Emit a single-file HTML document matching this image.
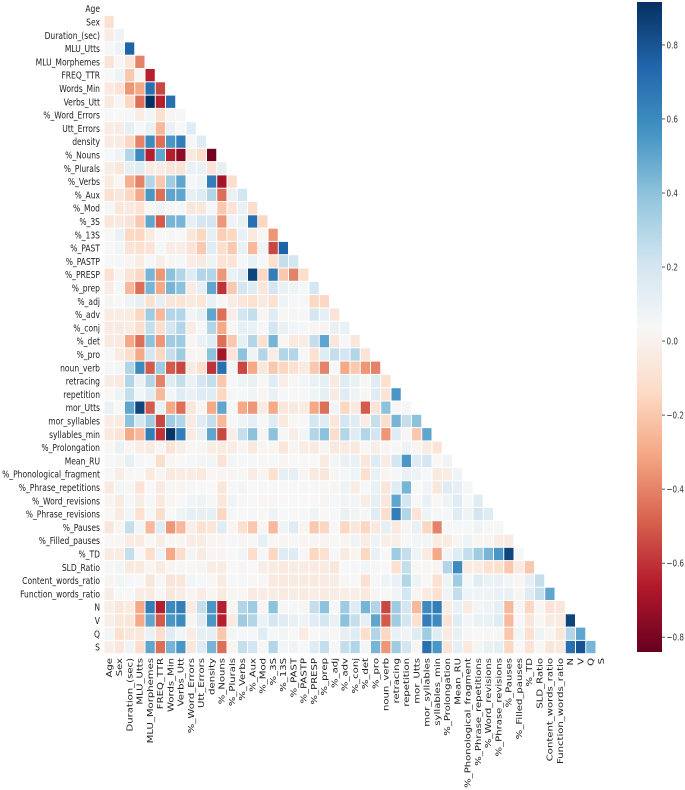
<!DOCTYPE html>
<html><head><meta charset="utf-8"><style>
html,body{margin:0;padding:0;background:#fff;}
svg{display:block;font-family:"DejaVu Sans","Liberation Sans",sans-serif;}
</style></head><body>
<svg id="chart" width="685" height="790" viewBox="0 0 685 790" xmlns="http://www.w3.org/2000/svg">
<defs>
<linearGradient id="cbg" x1="0" y1="1" x2="0" y2="0">
<stop offset="0" stop-color="#67001f"/><stop offset="0.1" stop-color="#b2182b"/><stop offset="0.2" stop-color="#d6604d"/><stop offset="0.3" stop-color="#f4a582"/><stop offset="0.4" stop-color="#fddbc7"/><stop offset="0.5" stop-color="#f7f7f7"/><stop offset="0.6" stop-color="#d1e5f0"/><stop offset="0.7" stop-color="#92c5de"/><stop offset="0.8" stop-color="#4393c3"/><stop offset="0.9" stop-color="#2166ac"/><stop offset="1" stop-color="#053061"/>
</linearGradient>
</defs>
<g id="cells"></g>
<g id="ylabels"></g>
<g id="xlabels"></g>
<g id="cbar"></g>
</svg>
<script>
const labels = ["Age","Sex","Duration_(sec)","MLU_Utts","MLU_Morphemes","FREQ_TTR","Words_Min","Verbs_Utt","%_Word_Errors","Utt_Errors","density","%_Nouns","%_Plurals","%_Verbs","%_Aux","%_Mod","%_3S","%_13S","%_PAST","%_PASTP","%_PRESP","%_prep","%_adj","%_adv","%_conj","%_det","%_pro","noun_verb","retracing","repetition","mor_Utts","mor_syllables","syllables_min","%_Prolongation","Mean_RU","%_Phonological_fragment","%_Phrase_repetitions","%_Word_revisions","%_Phrase_revisions","%_Pauses","%_Filled_pauses","%_TD","SLD_Ratio","Content_words_ratio","Function_words_ratio","N","V","Q","S"];
const corr = [
[],
[-0.1],
[-0.03,0.08],
[0.05,0.08,0.75],
[-0.08,0.03,-0.07,-0.4],
[0.03,0.08,-0.2,0.03,-0.65],
[-0.05,-0.08,-0.35,-0.3,0.7,-0.55],
[-0.05,0.02,-0.15,-0.45,0.92,-0.65,0.7],
[0.04,0.04,0.05,-0.03,0.06,-0.1,0.02,0.05],
[-0.03,-0.03,0.12,0.05,0.1,-0.25,0.1,0.04,0.15],
[-0.04,-0.04,-0.15,-0.4,0.6,-0.45,0.55,0.65,0.05,0.15],
[0.05,0.08,0.3,0.6,-0.65,0.5,-0.65,-0.75,-0.05,-0.12,-0.82],
[-0.03,-0.06,0.12,0.15,-0.03,-0.03,-0.06,-0.08,0.1,0.1,-0.08,0.12],
[-0.04,0.02,-0.28,-0.4,0.3,-0.2,0.35,0.5,0.05,0.08,0.65,-0.7,-0.12],
[-0.1,-0.06,-0.15,-0.3,0.55,-0.45,0.5,0.5,0.12,0.15,0.3,-0.45,0.1,0.2],
[0.05,-0.06,-0.05,-0.08,0.03,0.08,0.03,0.05,-0.06,-0.06,0.05,-0.2,-0.08,0.1,-0.12],
[-0.06,-0.05,-0.08,-0.2,0.5,-0.5,0.45,0.45,0.12,0.2,0.2,-0.35,0.08,0.1,0.7,-0.15],
[0.03,0.1,-0.15,-0.15,-0.04,0.04,0.05,0.04,-0.06,-0.15,0.12,-0.18,-0.15,0.1,-0.05,0.03,-0.35],
[0.04,0.06,-0.08,-0.1,-0.08,0.05,-0.03,-0.02,-0.08,-0.2,0.15,-0.12,-0.2,0.1,-0.25,0.08,-0.55,0.75],
[0.05,0.05,0.02,-0.03,0.05,-0.02,0.03,0.05,-0.03,-0.05,0.08,-0.08,-0.08,0.05,0.1,0.05,-0.1,0.25,0.2],
[-0.1,0.02,-0.08,-0.15,0.45,-0.35,0.4,0.3,0.15,0.3,0.3,-0.35,0.1,0.15,0.85,-0.15,0.65,-0.2,-0.4,-0.12],
[-0.03,0.05,-0.25,-0.45,0.45,-0.3,0.45,0.4,-0.04,0.12,0.5,-0.6,-0.2,0.2,0.15,-0.06,0.2,0.1,0.08,0.05,0.2],
[0.02,0.04,0.08,0.12,-0.1,0.12,-0.07,-0.08,-0.05,-0.07,0.1,0.03,-0.03,-0.07,-0.1,-0.05,-0.1,0.08,0.05,0.03,-0.15,-0.15],
[-0.03,-0.03,-0.04,-0.15,0.35,-0.25,0.3,0.3,0.07,0.12,0.5,-0.45,-0.02,0.2,0.25,0.02,0.15,0.03,0.02,0.05,0.2,0.12,-0.08],
[-0.04,-0.04,-0.03,-0.12,0.25,-0.12,0.2,0.3,-0.03,0.05,0.3,-0.3,0.03,0.12,0.1,0.05,0.2,0.1,0.07,0.05,0.02,0.02,0.1,0.1],
[-0.05,-0.05,-0.3,-0.45,0.4,-0.35,0.35,0.35,0.02,0.1,0.15,-0.45,-0.2,0.12,0.3,-0.1,0.45,0.03,-0.05,-0.03,0.25,0.5,-0.06,0.05,-0.06],
[0.05,-0.04,-0.12,-0.3,0.2,-0.15,0.25,0.35,0.02,0.02,0.4,-0.7,-0.08,0.4,0.08,0.3,-0.03,0.3,0.3,0.05,-0.1,0.15,0.25,0.2,0.3,-0.08],
[0.05,0.06,0.3,0.6,-0.5,0.35,-0.5,-0.55,-0.04,-0.1,-0.6,0.7,0.06,-0.55,-0.3,-0.06,-0.2,-0.15,-0.1,-0.04,-0.2,-0.4,0.05,-0.3,-0.2,-0.35,-0.4],
[-0.03,-0.05,0.3,0.1,0.3,-0.4,0.15,0.25,0.1,0.2,0.25,-0.2,0.05,0.08,0.1,0.03,0.15,-0.02,0.03,0.06,0.1,0.12,-0.05,0.15,0.1,0.03,0.15,-0.1],
[0.03,0.08,0.25,0.06,0.15,-0.25,0.06,0.15,0.1,0.15,0.15,-0.15,0.03,0.05,0.07,0.02,0.1,0.05,0.04,0.05,0.08,0.12,-0.04,0.15,0.08,0.03,0.15,-0.08,0.55],
[0.1,0.03,0.5,0.85,-0.5,0.1,-0.3,-0.45,-0.06,0.02,-0.3,0.5,0.05,-0.3,-0.35,-0.04,-0.3,-0.06,-0.05,-0.03,-0.3,-0.45,0.07,-0.15,-0.05,-0.5,-0.08,0.4,0.03,0.05],
[-0.03,-0.04,0.4,0.2,0.35,-0.55,0.35,0.3,-0.04,0.15,0.25,-0.25,0.05,0.08,0.12,0.05,0.15,-0.05,0.03,0.04,0.2,0.15,-0.06,0.2,0.15,-0.03,0.25,-0.12,0.45,0.25,0.4],
[-0.05,-0.08,-0.3,-0.25,0.65,-0.6,0.9,0.65,-0.04,0.1,0.5,-0.55,-0.02,0.25,0.4,0.02,0.4,0.05,-0.02,0.06,0.3,0.4,-0.12,0.3,0.15,0.3,0.2,-0.35,0.15,0.03,-0.2,0.5],
[0.03,0.1,0.02,-0.02,-0.04,0.02,-0.08,-0.02,0.03,0.02,-0.03,-0.04,-0.03,0.02,-0.05,0.02,0.02,-0.06,0.02,-0.03,-0.04,0.02,-0.05,-0.04,-0.05,0.03,-0.02,0.02,0.03,0.08,0.02,-0.04,-0.08],
[0.05,0.02,0.12,0.05,0.04,-0.12,0.02,0.04,0.05,0.06,0.06,-0.08,0.06,0.05,0.05,0.03,0.05,0.02,0.04,0.04,0.04,-0.04,0.06,0.1,0.1,-0.06,0.15,-0.03,0.2,0.55,0.15,0.2,0.03,0.07],
[0.03,-0.03,0.03,0.04,-0.05,0.02,-0.05,-0.03,-0.03,-0.05,0.03,0.02,0.02,0.03,-0.03,0.02,-0.1,0.12,0.12,0.02,-0.05,-0.06,0.02,0.05,0.08,-0.1,0.1,0.02,0.05,0.1,0.08,0.05,-0.05,-0.03,0.07],
[-0.05,0.06,0.03,-0.08,0.04,-0.04,0.03,0.02,0.05,0.04,0.04,-0.06,0.05,0.06,0.04,0.05,0.03,0.04,0.04,0.03,0.05,0.03,0.02,0.08,-0.03,0.05,0.1,-0.06,0.15,0.45,0.04,0.07,-0.06,0.15,0.12,0.05],
[0.02,-0.04,0.05,-0.03,0.05,-0.05,0.02,0.04,0.07,0.08,0.05,-0.06,0.07,0.03,0.04,0.02,0.02,0.04,0.04,0.04,0.04,0.02,0.05,0.07,0.06,-0.03,0.12,-0.06,0.5,0.2,0.04,0.1,0.03,0.08,0.15,0.04,0.15],
[0.03,-0.04,0.06,-0.1,0.05,-0.12,0.04,0.08,0.12,0.12,0.12,-0.15,0.05,0.04,0.05,0.03,0.08,0.04,0.04,0.05,0.08,0.04,0.05,0.1,0.06,0.05,0.15,-0.12,0.65,0.3,-0.08,0.08,0.05,0.05,0.15,0.08,0.2,0.15],
[-0.06,0.02,0.25,0.06,-0.25,0.15,-0.35,-0.25,-0.02,-0.1,-0.07,0.15,0.02,-0.1,-0.2,0.02,-0.25,0.08,0.15,0.02,-0.2,-0.15,0.04,-0.15,-0.06,-0.15,-0.05,0.12,-0.05,0.02,0.1,-0.15,-0.4,0.05,0.05,0.05,0.08,0.03,0.05],
[0.03,0.03,-0.04,-0.04,0.03,-0.03,0.03,0.02,-0.03,-0.03,0.02,0.02,0.05,0.02,0.03,0.12,0.03,0.02,0.03,0.02,0.02,0.02,0.03,0.02,0.08,-0.03,0.08,-0.02,-0.02,0.04,0.06,0.06,-0.03,-0.04,0.02,0.08,0.02,0.02,-0.03,-0.04],
[-0.04,-0.03,0.25,0.04,-0.12,0.08,-0.3,-0.12,0.06,-0.04,0.02,0.02,0.04,0.06,-0.12,0.05,-0.15,0.15,0.15,0.03,-0.15,-0.1,0.05,-0.04,0.02,-0.15,0.1,0.03,0.35,0.25,0.08,-0.04,-0.3,0.06,0.15,0.25,0.35,0.45,0.55,0.85,0.05],
[0.03,0.06,-0.05,-0.05,0.02,-0.04,0.02,0.03,0.03,0.02,-0.03,-0.03,0.04,0.02,0.04,-0.02,-0.04,-0.05,-0.03,-0.03,-0.04,-0.04,-0.06,0.04,0.05,0.06,0.03,0.04,-0.1,0.25,0.03,0.03,0.02,0.3,0.6,-0.04,-0.04,-0.1,-0.1,-0.2,-0.04,-0.2],
[0.02,0.06,0.05,0.04,-0.06,0.03,-0.08,-0.06,0.06,0.05,0.03,-0.04,0.05,0.05,0.03,0.03,-0.05,-0.05,-0.04,-0.04,-0.05,-0.04,-0.03,0.03,0.04,-0.1,0.05,0.08,0.1,0.3,0.08,0.03,-0.1,0.08,0.35,0.05,0.15,0.1,0.1,0.06,0.02,0.12,0.25],
[-0.03,0.04,0.04,-0.03,-0.04,0.03,-0.06,-0.03,0.02,-0.03,0.02,-0.04,0.02,0.03,-0.04,-0.03,-0.03,-0.04,-0.03,-0.04,-0.03,-0.04,-0.03,-0.02,-0.02,-0.05,0.02,0.03,0.07,0.2,0.02,-0.04,-0.1,0.07,0.25,0.08,0.08,0.08,0.1,0.1,0.02,0.15,0.25,0.5],
[-0.02,-0.06,-0.04,-0.3,0.65,-0.65,0.6,0.65,-0.04,0.25,0.55,-0.65,0.02,0.3,0.35,0.02,0.4,0.03,0.05,0.02,0.25,0.4,0.05,0.35,0.15,0.45,0.3,-0.55,0.35,0.2,-0.25,0.6,0.65,-0.03,0.1,-0.04,0.06,0.08,0.12,-0.25,0.03,-0.15,0.03,-0.08,-0.06],
[-0.02,-0.06,-0.06,-0.3,0.5,-0.5,0.55,0.6,0.02,0.15,0.55,-0.65,-0.05,0.35,0.3,0.1,0.2,0.15,0.1,0.08,0.15,0.2,0.1,0.4,0.25,0.12,0.5,-0.5,0.35,0.2,-0.1,0.65,0.6,-0.08,0.15,0.06,0.1,0.1,0.15,-0.25,0.04,-0.06,0.03,-0.04,-0.05,0.85],
[0.06,-0.1,-0.06,-0.06,0.1,-0.12,0.15,0.06,-0.03,0.12,0.12,-0.2,0.06,0.05,0.05,0.15,0.05,0.06,0.04,-0.03,0.04,0.06,0.03,0.12,0.15,-0.12,0.3,-0.15,0.1,0.07,0.15,0.35,0.15,-0.04,0.1,0.03,0.04,0.03,0.03,-0.2,0.06,-0.1,0.08,0.02,-0.06,0.3,0.5],
[-0.02,-0.06,0.08,-0.12,0.5,-0.45,0.45,0.55,-0.06,0.15,0.45,-0.45,0.02,0.25,0.2,0.03,0.3,0.06,0.07,0.04,0.15,0.25,0.05,0.25,0.3,0.06,0.45,-0.35,0.35,0.2,0.03,0.7,0.55,-0.08,0.12,-0.05,0.06,0.1,0.12,-0.15,0.04,-0.08,0.03,-0.06,-0.05,0.7,0.8,0.45]
];
const cbTicks = [0.8,0.6,0.4,0.2,0.0,-0.2,-0.4,-0.6,-0.8];

const NS="http://www.w3.org/2000/svg";
const X0=104, CW=10.25, Y0=2, CH=13.3, VMIN=-0.84, VMAX=0.916;
const CB_X=637, CB_W=25, CB_TOP=2, CB_BOT=652;
const stops=["#67001f","#b2182b","#d6604d","#f4a582","#fddbc7","#f7f7f7","#d1e5f0","#92c5de","#4393c3","#2166ac","#053061"].map(h=>[parseInt(h.slice(1,3),16),parseInt(h.slice(3,5),16),parseInt(h.slice(5,7),16)]);
function xPos(c){return X0+c*CW;}
function yPos(r){return Y0+r*CH;}
function cbY(v){return CB_BOT-(v-VMIN)/(VMAX-VMIN)*(CB_BOT-CB_TOP);}
function color(v){let t=(v-VMIN)/(VMAX-VMIN);t=Math.max(0,Math.min(1,t))*10;const i=Math.min(9,Math.floor(t)),f=t-i;const a=stops[i],b=stops[i+1];return "rgb("+a.map((x,k)=>Math.round(x+(b[k]-x)*f)).join(",")+")";}
function mk(tag,attrs,parent){const e=document.createElementNS(NS,tag);for(const k in attrs)e.setAttribute(k,attrs[k]);parent.appendChild(e);return e;}

const cells=document.getElementById('cells');
corr.forEach((row,r)=>{row.forEach((v,c)=>{if(c>=r)return;
  const e=mk('rect',{x:xPos(c)+0.5,y:yPos(r)+0.5,width:CW-1,height:CH-1,fill:color(v)},cells);
  
  
});});

const yl=document.getElementById('ylabels'), xl=document.getElementById('xlabels');
let FS=10;
const probe=mk('text',{'font-size':FS},yl);probe.textContent="%_Phonological_fragment";
const w=probe.getComputedTextLength();yl.removeChild(probe);
FS=FS*130/w;
const SX=98/130;
labels.forEach((lab,i)=>{
  const yy=yPos(i)+CH/2+FS*0.35;
  const t=mk('text',{x:0,y:0,'text-anchor':'end','font-size':FS,fill:'#222',transform:'translate(100,'+yy+') scale('+SX+',1)'},yl);
  t.textContent=lab;
  
  
  const cx=xPos(i)+CW/2+FS*0.35*SX;
  const u=mk('text',{x:0,y:0,'text-anchor':'end','font-size':FS,fill:'#222',transform:'translate('+cx+',658) rotate(-90) scale(1,'+SX+')'},xl);
  u.textContent=lab;
  
  
});

const cb=document.getElementById('cbar');
const bar=mk('rect',{x:CB_X,y:CB_TOP,width:CB_W,height:CB_BOT-CB_TOP,fill:'url(#cbg)'},cb);


cbTicks.forEach(v=>{const y=cbY(v);
  mk('line',{x1:CB_X+CB_W,x2:CB_X+CB_W+3,y1:y,y2:y,stroke:'#333','stroke-width':0.8},cb);
  const t=mk('text',{x:0,y:0,'font-size':FS,fill:'#333',transform:'translate('+(CB_X+CB_W+4.5)+','+(y+FS*0.35)+') scale('+(SX*0.95)+',1)'},cb);
  t.textContent=(v<0?"\u2212":"")+Math.abs(v).toFixed(1);
  
  
});
</script>
</body></html>
